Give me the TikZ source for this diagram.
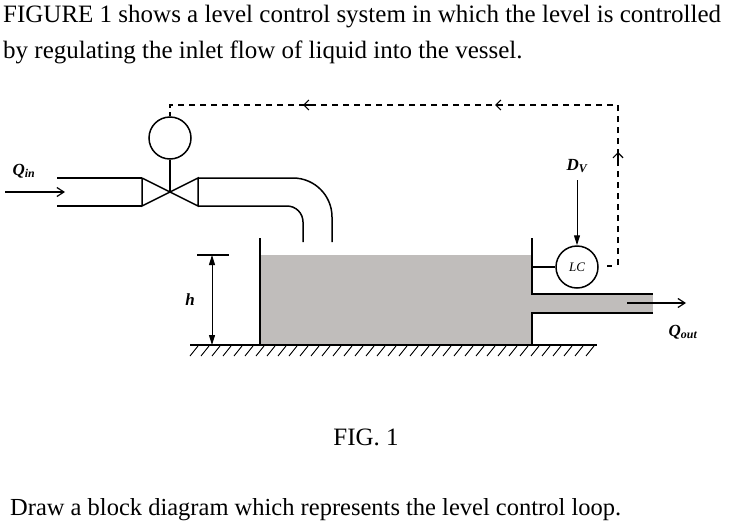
\documentclass[tikz,border=0pt]{standalone}
\usepackage{fontspec}
\setmainfont{Liberation Serif}
\usetikzlibrary{arrows.meta}
\definecolor{liquid}{HTML}{C0BDBB}
\begin{document}
\begin{tikzpicture}[x=1pt,y=-1pt,
  pipe/.style={line width=1.5pt},
  sig/.style={line width=1.2pt,dash pattern=on 6pt off 5pt},
  big/.style={anchor=west,inner sep=0pt,font=\fontsize{25}{25}\selectfont},
  lbl/.style={font=\itshape\bfseries\fontsize{17}{17}\selectfont,inner sep=0pt}]
\useasboundingbox (0,0) rectangle (743,525);
% texts
\node[big] (t1) at (3,17) {FIGURE 1 shows a level control system in which the level is controlled};
\node[big] (t2) at (3,52) {by regulating the inlet flow of liquid into the vessel.};
\node[big,anchor=center] (fig) at (366,437) {FIG. 1};
\node[big,font=\fontsize{24.5}{25}\selectfont] (t3) at (10,510) {Draw a block diagram which represents the level control loop.};
% liquid
\fill[liquid] (260,255) rectangle (532,345);
\fill[liquid] (532,294) rectangle (653,313);
% tank
\draw[pipe] (260,238) -- (260,345);
\draw[pipe] (532,238) -- (532,294) -- (653,294);
\draw[pipe] (653,313) -- (532,313) -- (532,345);
\draw[pipe] (190,345) -- (597,345);
\foreach \x in {190,201,...,590} \draw[line width=0.9pt] (\x,356) -- (\x+8,346);
% inlet
\draw[pipe] (57,178) -- (142,178) (57,206) -- (142,206);
\draw[pipe] (142,178) -- (142,206) -- (198,178) -- (198,206) -- (142,178);
\draw[pipe] (198,178) -- (293,178) arc[start angle=-90,end angle=0,radius=39] -- (332,242);
\draw[pipe] (198,206) -- (287,206) arc[start angle=-90,end angle=0,radius=16] -- (303,242);
\node[draw,circle,line width=1.5pt,minimum size=42pt,inner sep=0pt] (act) at (170,138) {};
\coordinate (vc) at (170,192);
\draw[pipe] (act.south) -- (vc);
\draw[line width=1.2pt] (act.north) -- (170,112);
% Qin
\node[lbl] (qin) at (24,171) {Q\textsubscript{in}};
\coordinate (qa) at (5,192); \coordinate (qb) at (65,192);
\draw[line width=1.2pt,-{Straight Barb[length=7pt,width=9pt]}] (qa) -- (qb);
% h
\draw[line width=1.2pt] (197,255) -- (229,255);
\coordinate (h1) at (212,255); \coordinate (h2) at (212,345);
\draw[line width=1pt,{Triangle[length=10pt,width=6pt]}-{Triangle[length=10pt,width=6pt]}] (h1) -- (h2);
\node[lbl] (h) at (190,300) {h};
% LC
\node[draw,circle,line width=1.5pt,minimum size=42pt,inner sep=0pt,font=\itshape\fontsize{13}{13}\selectfont] (lc) at (577,267) {LC};
\draw[line width=1.2pt] (532,267) -- (lc.west);
\node[lbl] (dv) at (577,166) {D\textsubscript{V}};
\draw[line width=1pt,-{Triangle[length=10pt,width=6pt]}] (577,180) -- (lc.north);
% dashed signal
\draw[line width=1.2pt] (607,266) -- (612,266);
\draw[sig] (618,265) -- (618,105) -- (170,105) -- (170,112);
\draw[line width=1.2pt,{Straight Barb[length=5pt,width=10pt]}-] (618,152) -- (618,160);
\draw[line width=1.2pt,{Straight Barb[length=5pt,width=10pt]}-] (495,105) -- (503,105);
\draw[line width=1.2pt,{Straight Barb[length=5pt,width=10pt]}-] (303,105) -- (311,105);
% Qout
\coordinate (o1) at (627,303); \coordinate (o2) at (686,303);
\draw[line width=1.2pt,-{Straight Barb[length=7pt,width=9pt]}] (o1) -- (o2);
\node[lbl] (qout) at (683,332) {Q\textsubscript{out}};
\end{tikzpicture}
\end{document}
